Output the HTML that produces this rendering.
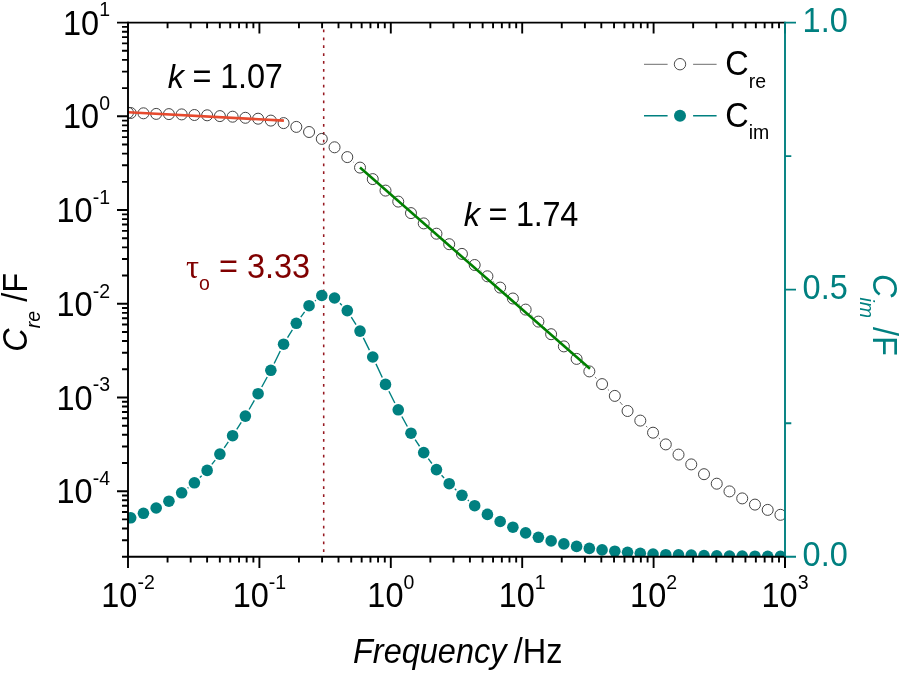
<!DOCTYPE html><html><head><meta charset="utf-8"><style>html,body{margin:0;padding:0;background:#fff;}svg{display:block;}text{font-family:"Liberation Sans", Arial, sans-serif;}</style></head><body>
<svg width="900" height="673" viewBox="0 0 900 673">
<defs><clipPath id="pc"><rect x="128.0" y="22.6" width="657.0" height="534.1"/></clipPath></defs>
<g clip-path="url(#pc)">
<line x1="323.7" y1="29.5" x2="323.7" y2="556.7" stroke="#961820" stroke-width="1.55" stroke-dasharray="2.8 5.076"/>
<path d="M187.64 488.11L188.42 487.49M199.85 477.50L201.69 475.70M211.82 464.41L215.20 460.09M224.21 447.85L228.29 441.95M236.76 429.33L241.22 422.47M249.12 409.49L254.34 400.31M261.73 387.03L267.21 376.97M274.17 363.47L280.25 351.03M287.54 337.71L292.36 329.79M300.78 317.14L304.60 311.86M314.99 300.95L315.87 300.25M339.94 303.34L341.88 305.26M351.29 317.06L356.01 324.64M363.37 337.92L369.41 350.18M375.96 363.89L382.30 377.51M388.91 391.19L394.83 403.01M401.87 416.47L407.35 426.53M415.15 439.55L419.55 446.25M428.28 458.68L431.90 463.52M441.56 475.24L444.10 478.06M454.82 488.82L456.32 490.18M467.83 500.11L468.79 500.89" fill="none" stroke="#008080" stroke-width="1.4"/>
<circle cx="130.70" cy="517.80" r="5.8" fill="#008080"/>
<circle cx="143.44" cy="513.30" r="5.8" fill="#008080"/>
<circle cx="156.18" cy="508.00" r="5.8" fill="#008080"/>
<circle cx="168.92" cy="501.20" r="5.8" fill="#008080"/>
<circle cx="181.66" cy="492.80" r="5.8" fill="#008080"/>
<circle cx="194.40" cy="482.80" r="5.8" fill="#008080"/>
<circle cx="207.14" cy="470.40" r="5.8" fill="#008080"/>
<circle cx="219.88" cy="454.10" r="5.8" fill="#008080"/>
<circle cx="232.62" cy="435.70" r="5.8" fill="#008080"/>
<circle cx="245.36" cy="416.10" r="5.8" fill="#008080"/>
<circle cx="258.10" cy="393.70" r="5.8" fill="#008080"/>
<circle cx="270.84" cy="370.30" r="5.8" fill="#008080"/>
<circle cx="283.58" cy="344.20" r="5.8" fill="#008080"/>
<circle cx="296.32" cy="323.30" r="5.8" fill="#008080"/>
<circle cx="309.06" cy="305.70" r="5.8" fill="#008080"/>
<circle cx="321.80" cy="295.50" r="5.8" fill="#008080"/>
<circle cx="334.54" cy="298.00" r="5.8" fill="#008080"/>
<circle cx="347.28" cy="310.60" r="5.8" fill="#008080"/>
<circle cx="360.02" cy="331.10" r="5.8" fill="#008080"/>
<circle cx="372.76" cy="357.00" r="5.8" fill="#008080"/>
<circle cx="385.50" cy="384.40" r="5.8" fill="#008080"/>
<circle cx="398.24" cy="409.80" r="5.8" fill="#008080"/>
<circle cx="410.98" cy="433.20" r="5.8" fill="#008080"/>
<circle cx="423.72" cy="452.60" r="5.8" fill="#008080"/>
<circle cx="436.46" cy="469.60" r="5.8" fill="#008080"/>
<circle cx="449.20" cy="483.70" r="5.8" fill="#008080"/>
<circle cx="461.94" cy="495.30" r="5.8" fill="#008080"/>
<circle cx="474.68" cy="505.70" r="5.8" fill="#008080"/>
<circle cx="487.42" cy="514.40" r="5.8" fill="#008080"/>
<circle cx="500.16" cy="521.50" r="5.8" fill="#008080"/>
<circle cx="512.90" cy="527.20" r="5.8" fill="#008080"/>
<circle cx="525.64" cy="532.90" r="5.8" fill="#008080"/>
<circle cx="538.38" cy="537.30" r="5.8" fill="#008080"/>
<circle cx="551.12" cy="540.90" r="5.8" fill="#008080"/>
<circle cx="563.86" cy="543.90" r="5.8" fill="#008080"/>
<circle cx="576.60" cy="546.40" r="5.8" fill="#008080"/>
<circle cx="589.34" cy="548.40" r="5.8" fill="#008080"/>
<circle cx="602.08" cy="549.90" r="5.8" fill="#008080"/>
<circle cx="614.82" cy="551.20" r="5.8" fill="#008080"/>
<circle cx="627.56" cy="552.30" r="5.8" fill="#008080"/>
<circle cx="640.30" cy="553.30" r="5.8" fill="#008080"/>
<circle cx="653.04" cy="554.10" r="5.8" fill="#008080"/>
<circle cx="665.78" cy="554.70" r="5.8" fill="#008080"/>
<circle cx="678.52" cy="554.90" r="5.8" fill="#008080"/>
<circle cx="691.26" cy="555.10" r="5.8" fill="#008080"/>
<circle cx="704.00" cy="555.60" r="5.8" fill="#008080"/>
<circle cx="716.74" cy="555.80" r="5.8" fill="#008080"/>
<circle cx="729.48" cy="556.00" r="5.8" fill="#008080"/>
<circle cx="742.22" cy="556.10" r="5.8" fill="#008080"/>
<circle cx="754.96" cy="556.20" r="5.8" fill="#008080"/>
<circle cx="767.70" cy="556.30" r="5.8" fill="#008080"/>
<circle cx="780.44" cy="556.40" r="5.8" fill="#008080"/>
<path d="M353.38 162.12L353.92 162.58M365.88 172.89L366.90 173.81M378.62 184.39L379.64 185.31M391.48 195.76L392.26 196.44M404.10 206.89L405.12 207.81M417.12 218.07L417.58 218.43M429.86 228.37L430.32 228.73M442.56 238.72L443.10 239.18M467.90 259.09L468.72 259.81M480.59 270.24L481.51 271.06M493.33 281.54L494.25 282.36M506.16 292.74L506.90 293.36M518.86 303.69L519.68 304.41M531.39 315.02L532.63 316.18M544.00 327.16L545.50 328.64M556.83 339.66L558.15 340.94M569.50 351.93L570.96 353.37M582.24 364.43L583.70 365.87M594.93 376.98L596.49 378.52M607.88 389.47L609.02 390.53M619.91 401.94L622.47 404.96M646.03 426.04L647.31 427.26M658.86 438.04L659.96 439.06M671.95 449.34L672.35 449.66" stroke="#666" stroke-width="0.9" fill="none"/>
<circle cx="128.00" cy="112.70" r="5.5" fill="none" stroke="#3a3a3a" stroke-width="0.95"/>
<circle cx="130.70" cy="113.00" r="5.5" fill="none" stroke="#3a3a3a" stroke-width="0.95"/>
<circle cx="143.44" cy="113.30" r="5.5" fill="none" stroke="#3a3a3a" stroke-width="0.95"/>
<circle cx="156.18" cy="113.90" r="5.5" fill="none" stroke="#3a3a3a" stroke-width="0.95"/>
<circle cx="168.92" cy="114.10" r="5.5" fill="none" stroke="#3a3a3a" stroke-width="0.95"/>
<circle cx="181.66" cy="114.40" r="5.5" fill="none" stroke="#3a3a3a" stroke-width="0.95"/>
<circle cx="194.40" cy="115.00" r="5.5" fill="none" stroke="#3a3a3a" stroke-width="0.95"/>
<circle cx="207.14" cy="115.30" r="5.5" fill="none" stroke="#3a3a3a" stroke-width="0.95"/>
<circle cx="219.88" cy="116.10" r="5.5" fill="none" stroke="#3a3a3a" stroke-width="0.95"/>
<circle cx="232.62" cy="116.70" r="5.5" fill="none" stroke="#3a3a3a" stroke-width="0.95"/>
<circle cx="245.36" cy="117.80" r="5.5" fill="none" stroke="#3a3a3a" stroke-width="0.95"/>
<circle cx="258.10" cy="118.70" r="5.5" fill="none" stroke="#3a3a3a" stroke-width="0.95"/>
<circle cx="270.84" cy="120.60" r="5.5" fill="none" stroke="#3a3a3a" stroke-width="0.95"/>
<circle cx="283.58" cy="123.10" r="5.5" fill="none" stroke="#3a3a3a" stroke-width="0.95"/>
<circle cx="296.32" cy="126.90" r="5.5" fill="none" stroke="#3a3a3a" stroke-width="0.95"/>
<circle cx="309.06" cy="132.00" r="5.5" fill="none" stroke="#3a3a3a" stroke-width="0.95"/>
<circle cx="321.80" cy="138.90" r="5.5" fill="none" stroke="#3a3a3a" stroke-width="0.95"/>
<circle cx="334.54" cy="147.30" r="5.5" fill="none" stroke="#3a3a3a" stroke-width="0.95"/>
<circle cx="347.28" cy="157.10" r="5.5" fill="none" stroke="#3a3a3a" stroke-width="0.95"/>
<circle cx="360.02" cy="167.60" r="5.5" fill="none" stroke="#3a3a3a" stroke-width="0.95"/>
<circle cx="372.76" cy="179.10" r="5.5" fill="none" stroke="#3a3a3a" stroke-width="0.95"/>
<circle cx="385.50" cy="190.60" r="5.5" fill="none" stroke="#3a3a3a" stroke-width="0.95"/>
<circle cx="398.24" cy="201.60" r="5.5" fill="none" stroke="#3a3a3a" stroke-width="0.95"/>
<circle cx="410.98" cy="213.10" r="5.5" fill="none" stroke="#3a3a3a" stroke-width="0.95"/>
<circle cx="423.72" cy="223.40" r="5.5" fill="none" stroke="#3a3a3a" stroke-width="0.95"/>
<circle cx="436.46" cy="233.70" r="5.5" fill="none" stroke="#3a3a3a" stroke-width="0.95"/>
<circle cx="449.20" cy="244.20" r="5.5" fill="none" stroke="#3a3a3a" stroke-width="0.95"/>
<circle cx="461.94" cy="253.90" r="5.5" fill="none" stroke="#3a3a3a" stroke-width="0.95"/>
<circle cx="474.68" cy="265.00" r="5.5" fill="none" stroke="#3a3a3a" stroke-width="0.95"/>
<circle cx="487.42" cy="276.30" r="5.5" fill="none" stroke="#3a3a3a" stroke-width="0.95"/>
<circle cx="500.16" cy="287.60" r="5.5" fill="none" stroke="#3a3a3a" stroke-width="0.95"/>
<circle cx="512.90" cy="298.50" r="5.5" fill="none" stroke="#3a3a3a" stroke-width="0.95"/>
<circle cx="525.64" cy="309.60" r="5.5" fill="none" stroke="#3a3a3a" stroke-width="0.95"/>
<circle cx="538.38" cy="321.60" r="5.5" fill="none" stroke="#3a3a3a" stroke-width="0.95"/>
<circle cx="551.12" cy="334.20" r="5.5" fill="none" stroke="#3a3a3a" stroke-width="0.95"/>
<circle cx="563.86" cy="346.40" r="5.5" fill="none" stroke="#3a3a3a" stroke-width="0.95"/>
<circle cx="576.60" cy="358.90" r="5.5" fill="none" stroke="#3a3a3a" stroke-width="0.95"/>
<circle cx="589.34" cy="371.40" r="5.5" fill="none" stroke="#3a3a3a" stroke-width="0.95"/>
<circle cx="602.08" cy="384.10" r="5.5" fill="none" stroke="#3a3a3a" stroke-width="0.95"/>
<circle cx="614.82" cy="395.90" r="5.5" fill="none" stroke="#3a3a3a" stroke-width="0.95"/>
<circle cx="627.56" cy="411.00" r="5.5" fill="none" stroke="#3a3a3a" stroke-width="0.95"/>
<circle cx="640.30" cy="420.60" r="5.5" fill="none" stroke="#3a3a3a" stroke-width="0.95"/>
<circle cx="653.04" cy="432.70" r="5.5" fill="none" stroke="#3a3a3a" stroke-width="0.95"/>
<circle cx="665.78" cy="444.40" r="5.5" fill="none" stroke="#3a3a3a" stroke-width="0.95"/>
<circle cx="678.52" cy="454.60" r="5.5" fill="none" stroke="#3a3a3a" stroke-width="0.95"/>
<circle cx="691.26" cy="464.40" r="5.5" fill="none" stroke="#3a3a3a" stroke-width="0.95"/>
<circle cx="704.00" cy="474.20" r="5.5" fill="none" stroke="#3a3a3a" stroke-width="0.95"/>
<circle cx="716.74" cy="483.70" r="5.5" fill="none" stroke="#3a3a3a" stroke-width="0.95"/>
<circle cx="729.48" cy="491.40" r="5.5" fill="none" stroke="#3a3a3a" stroke-width="0.95"/>
<circle cx="742.22" cy="498.40" r="5.5" fill="none" stroke="#3a3a3a" stroke-width="0.95"/>
<circle cx="754.96" cy="504.60" r="5.5" fill="none" stroke="#3a3a3a" stroke-width="0.95"/>
<circle cx="767.70" cy="509.90" r="5.5" fill="none" stroke="#3a3a3a" stroke-width="0.95"/>
<circle cx="780.44" cy="514.80" r="5.5" fill="none" stroke="#3a3a3a" stroke-width="0.95"/>
<line x1="128" y1="112.3" x2="283.9" y2="120.6" stroke="#e64a2e" stroke-width="2.6"/>
<line x1="360" y1="167.6" x2="590" y2="368.7" stroke="#008000" stroke-width="2.6"/>
</g>
<g stroke="#000" stroke-width="1.9" fill="none">
<line x1="128.0" y1="21.7" x2="128.0" y2="557.7"/>
<line x1="128.0" y1="22.6" x2="785.0" y2="22.6"/>
<line x1="128.0" y1="556.7" x2="785.0" y2="556.7"/>
<path d="M128.00 556.70V567.90M128.00 22.60V33.40M167.56 556.70V562.50M167.56 22.60V28.30M190.69 556.70V562.50M190.69 22.60V28.30M207.11 556.70V562.50M207.11 22.60V28.30M219.84 556.70V562.50M219.84 22.60V28.30M230.25 556.70V562.50M230.25 22.60V28.30M239.05 556.70V562.50M239.05 22.60V28.30M246.67 556.70V562.50M246.67 22.60V28.30M253.39 556.70V562.50M253.39 22.60V28.30M259.40 556.70V567.90M259.40 22.60V33.40M298.96 556.70V562.50M298.96 22.60V28.30M322.09 556.70V562.50M322.09 22.60V28.30M338.51 556.70V562.50M338.51 22.60V28.30M351.24 556.70V562.50M351.24 22.60V28.30M361.65 556.70V562.50M361.65 22.60V28.30M370.45 556.70V562.50M370.45 22.60V28.30M378.07 556.70V562.50M378.07 22.60V28.30M384.79 556.70V562.50M384.79 22.60V28.30M390.80 556.70V567.90M390.80 22.60V33.40M430.36 556.70V562.50M430.36 22.60V28.30M453.49 556.70V562.50M453.49 22.60V28.30M469.91 556.70V562.50M469.91 22.60V28.30M482.64 556.70V562.50M482.64 22.60V28.30M493.05 556.70V562.50M493.05 22.60V28.30M501.85 556.70V562.50M501.85 22.60V28.30M509.47 556.70V562.50M509.47 22.60V28.30M516.19 556.70V562.50M516.19 22.60V28.30M522.20 556.70V567.90M522.20 22.60V33.40M561.76 556.70V562.50M561.76 22.60V28.30M584.89 556.70V562.50M584.89 22.60V28.30M601.31 556.70V562.50M601.31 22.60V28.30M614.04 556.70V562.50M614.04 22.60V28.30M624.45 556.70V562.50M624.45 22.60V28.30M633.25 556.70V562.50M633.25 22.60V28.30M640.87 556.70V562.50M640.87 22.60V28.30M647.59 556.70V562.50M647.59 22.60V28.30M653.60 556.70V567.90M653.60 22.60V33.40M693.16 556.70V562.50M693.16 22.60V28.30M716.29 556.70V562.50M716.29 22.60V28.30M732.71 556.70V562.50M732.71 22.60V28.30M745.44 556.70V562.50M745.44 22.60V28.30M755.85 556.70V562.50M755.85 22.60V28.30M764.65 556.70V562.50M764.65 22.60V28.30M772.27 556.70V562.50M772.27 22.60V28.30M778.99 556.70V562.50M778.99 22.60V28.30M785.00 556.70V567.90M785.00 22.60V33.40M128.00 556.70H122.00M128.00 540.20H122.00M128.00 528.49H122.00M128.00 519.41H122.00M128.00 511.98H122.00M128.00 505.71H122.00M128.00 500.28H122.00M128.00 495.48H122.00M128.00 491.19H117.00M128.00 462.98H122.00M128.00 446.48H122.00M128.00 434.77H122.00M128.00 425.69H122.00M128.00 418.27H122.00M128.00 411.99H122.00M128.00 406.56H122.00M128.00 401.76H122.00M128.00 397.47H117.00M128.00 369.26H122.00M128.00 352.76H122.00M128.00 341.05H122.00M128.00 331.97H122.00M128.00 324.55H122.00M128.00 318.27H122.00M128.00 312.84H122.00M128.00 308.04H122.00M128.00 303.76H117.00M128.00 275.54H122.00M128.00 259.04H122.00M128.00 247.33H122.00M128.00 238.25H122.00M128.00 230.83H122.00M128.00 224.55H122.00M128.00 219.12H122.00M128.00 214.33H122.00M128.00 210.04H117.00M128.00 181.83H122.00M128.00 165.32H122.00M128.00 153.61H122.00M128.00 144.53H122.00M128.00 137.11H122.00M128.00 130.84H122.00M128.00 125.40H122.00M128.00 120.61H122.00M128.00 116.32H117.00M128.00 88.11H122.00M128.00 71.60H122.00M128.00 59.89H122.00M128.00 50.81H122.00M128.00 43.39H122.00M128.00 37.12H122.00M128.00 31.68H122.00M128.00 26.89H122.00M128.00 22.60H117.00"/>
</g>
<g stroke="#008080" stroke-width="1.9" fill="none">
<line x1="785.0" y1="21.7" x2="785.0" y2="557.7"/>
<path d="M785.00 556.70H796.00M785.00 423.18H791.30M785.00 289.65H796.00M785.00 156.12H791.30M785.00 22.60H796.00"/>
</g>
<path d="M785.00 556.70V567.90" stroke="#000" stroke-width="1.9"/>
<text transform="translate(110.00,34.70) scale(1,1.055)" font-size="32.5" text-anchor="end">10<tspan font-size="19.5" dy="-17.35">1</tspan></text>
<text transform="translate(110.00,128.42) scale(1,1.055)" font-size="32.5" text-anchor="end">10<tspan font-size="19.5" dy="-17.35">0</tspan></text>
<text transform="translate(110.00,222.14) scale(1,1.055)" font-size="32.5" text-anchor="end">10<tspan font-size="19.5" dy="-17.35">-1</tspan></text>
<text transform="translate(110.00,315.86) scale(1,1.055)" font-size="32.5" text-anchor="end">10<tspan font-size="19.5" dy="-17.35">-2</tspan></text>
<text transform="translate(110.00,409.57) scale(1,1.055)" font-size="32.5" text-anchor="end">10<tspan font-size="19.5" dy="-17.35">-3</tspan></text>
<text transform="translate(110.00,503.29) scale(1,1.055)" font-size="32.5" text-anchor="end">10<tspan font-size="19.5" dy="-17.35">-4</tspan></text>
<text transform="translate(128.00,606.90) scale(1,1.055)" font-size="32.5" text-anchor="middle">10<tspan font-size="19.5" dy="-16.87">-2</tspan></text>
<text transform="translate(259.40,606.90) scale(1,1.055)" font-size="32.5" text-anchor="middle">10<tspan font-size="19.5" dy="-16.87">-1</tspan></text>
<text transform="translate(390.80,606.90) scale(1,1.055)" font-size="32.5" text-anchor="middle">10<tspan font-size="19.5" dy="-16.87">0</tspan></text>
<text transform="translate(522.20,606.90) scale(1,1.055)" font-size="32.5" text-anchor="middle">10<tspan font-size="19.5" dy="-16.87">1</tspan></text>
<text transform="translate(653.60,606.90) scale(1,1.055)" font-size="32.5" text-anchor="middle">10<tspan font-size="19.5" dy="-16.87">2</tspan></text>
<text transform="translate(785.00,606.90) scale(1,1.055)" font-size="32.5" text-anchor="middle">10<tspan font-size="19.5" dy="-16.87">3</tspan></text>
<text transform="translate(802.60,566.10) scale(1,1.055)" font-size="32.5" fill="#008080">0.0</text>
<text transform="translate(802.60,299.05) scale(1,1.055)" font-size="32.5" fill="#008080">0.5</text>
<text transform="translate(802.60,32.00) scale(1,1.055)" font-size="32.5" fill="#008080">1.0</text>
<text transform="translate(353.00,663.10) scale(1,1.055)" font-size="32.5" font-style="italic">Frequency</text>
<text transform="translate(513.70,663.10) scale(1,1.055)" font-size="32.5">/Hz</text>
<text transform="translate(27.00,351.70) rotate(-90) scale(1,1.055)" font-size="32.5"><tspan font-style="italic">C</tspan><tspan font-size="19.5" dy="12.13" font-style="italic">re</tspan><tspan dy="-12.13"> /F</tspan></text>
<text transform="translate(872.60,274.00) rotate(90) scale(1,1.055)" font-size="32.5" fill="#008080"><tspan font-style="italic">C</tspan><tspan font-size="19.5" dy="12.23" font-style="italic">im</tspan><tspan dy="-12.23"> /F</tspan></text>
<text transform="translate(167.70,88.30) scale(1,1.01)" font-size="32.5" font-style="italic">k</text>
<text transform="translate(192.59,88.30) scale(1,1.055)" font-size="32.5" letter-spacing="-0.20">= 1.07</text>
<text transform="translate(463.80,225.90) scale(1,1.01)" font-size="32.5" font-style="italic">k</text>
<text transform="translate(488.49,225.90) scale(1,1.055)" font-size="32.5" letter-spacing="-0.30">= 1.74</text>
<text transform="translate(186.00,277.60) scale(1,1.055)" font-size="32.5" fill="#800000"><tspan font-family="Liberation Serif, serif">τ</tspan><tspan font-size="19.5" dy="11.94">o</tspan><tspan dy="-11.94"> = 3.33</tspan></text>
<g>
<path d="M644 64.3H667.6M693.1 64.3H716.6" stroke="#8a8a8a" stroke-width="1.3"/>
<circle cx="680" cy="64.2" r="5.7" fill="none" stroke="#444" stroke-width="0.95"/>
<path d="M644 115.7H667.6M693.1 115.7H716.6" stroke="#008080" stroke-width="1.6"/>
<circle cx="680" cy="115.7" r="6" fill="#008080"/>
<text transform="translate(725.30,75.20) scale(1,1.055)" font-size="32.5">C<tspan font-size="19.5" dy="11.94">re</tspan></text>
<text transform="translate(725.30,126.70) scale(1,1.055)" font-size="32.5">C<tspan font-size="19.5" dy="11.85">im</tspan></text>
</g>
</svg></body></html>
